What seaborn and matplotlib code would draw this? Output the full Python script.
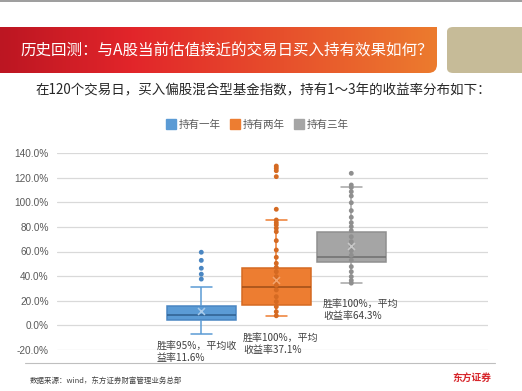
import numpy as np
import pandas as pd
import matplotlib.pyplot as plt
import matplotlib.patches as mpatches
from matplotlib.lines import Line2D
import seaborn as sns

# series and box statistics (return, %)
series = ["持有一年", "持有两年", "持有三年"]
whisker_low = [-7.0, 7.8, 34.3]
q1 = [4.2, 16.2, 51.8]
median = [8.2, 31.0, 55.4]
q3 = [16.0, 46.2, 76.0]
whisker_high = [31.5, 85.6, 112.0]
means = [11.6, 37.1, 64.3]

# visible points (outliers and inner points)
pts_1y = [59.4, 52.8, 46.4, 41.6, 37.6]
pts_2y = [129.4, 127.6, 125.6, 120.8, 94.3, 85.6, 83.4, 81.5, 78.9, 76.1,
          68.8, 61.2, 55.3, 50.4, 47.2, 43.6, 39.6, 36.3, 32.8, 28.8,
          23.3, 19.3, 15.2, 11.1, 7.8]
pts_3y = [123.5, 114.0, 112.0, 108.6, 105.1, 99.6, 93.2, 87.8, 83.4, 80.2,
          76.9, 72.0, 68.0, 64.5, 60.7, 57.0, 53.0, 47.7, 43.6, 39.6,
          36.5, 34.3]

notes = ["胜率95%，平均收\n益率11.6%", "胜率100%，平均\n收益率37.1%", "胜率100%，平均\n收益率64.3%"]
yticks = [-20, 0, 20, 40, 60, 80, 100, 120, 140]

fill_colors = ["#5B9BD5", "#ED7D31", "#A5A5A5"]
edge_colors = ["#4A86C2", "#D56A22", "#8F8F8F"]
median_colors = ["#2F5F8F", "#9E4E17", "#6F6F6F"]
mean_colors = ["#A9CBEA", "#F2A46E", "#C8C8C8"]

sns.set_style("white")
plt.rcParams['font.family'] = ['Noto Sans CJK SC', 'DejaVu Sans']

W, H = 522, 391
fig = plt.figure(figsize=(W / 100, H / 100), dpi=100)


def fx(px):
    return px / W


def fy(py):
    return 1 - py / H


# five-number summaries -> data for the box drawing
box_rows = []
for i, name in enumerate(series):
    for v in [whisker_low[i], q1[i], median[i], q3[i], whisker_high[i]]:
        box_rows.append({"series": name, "value": v})
box_df = pd.DataFrame(box_rows)

pts_df = pd.DataFrame({
    "series": [series[0]] * len(pts_1y) + [series[1]] * len(pts_2y) + [series[2]] * len(pts_3y),
    "value": pts_1y + pts_2y + pts_3y,
})
mean_df = pd.DataFrame({"series": series, "value": means})

ax = fig.add_axes([fx(57), fy(350), fx(488) - fx(57), fy(153) - fy(350)])

for i, name in enumerate(series):
    sns.boxplot(data=box_df[box_df["series"] == name], x="series", y="value",
                order=series, color=fill_colors[i], saturation=1,
                linecolor=fill_colors[i], linewidth=1.1, width=0.92,
                whis=(0, 100), showfliers=False, capwidths=0.28,
                boxprops={"edgecolor": edge_colors[i]},
                medianprops={"color": median_colors[i], "linewidth": 1.1},
                ax=ax)

sns.stripplot(data=pts_df, x="series", y="value", order=series, hue="series",
              hue_order=series, palette=edge_colors, jitter=False, size=3.5,
              linewidth=0, legend=False, zorder=4, ax=ax)

for i, name in enumerate(series):
    sns.stripplot(data=mean_df[mean_df["series"] == name], x="series", y="value",
                  order=series, color=mean_colors[i], marker="x", size=5,
                  linewidth=1.1, jitter=False, zorder=5, ax=ax)

ax.set_xlim(-1.924, 3.823)
ax.set_ylim(-20, 140)
ax.set_yticks(yticks)
ax.set_yticklabels([f"{t:.1f}%" for t in yticks], fontsize=7.2, color="#595959",
                   family=['Liberation Sans', 'DejaVu Sans'])
ax.set_xticks([])
ax.set_xlabel("")
ax.set_ylabel("")
ax.tick_params(axis="y", length=0, pad=6)
ax.set_axisbelow(True)
ax.yaxis.grid(True, color="#D9D9D9", linewidth=0.9)
for s in ax.spines.values():
    s.set_visible(False)

# notes under the boxes
note_pos = [(157, 341), (243, 333), (323, 299)]
for (px, py), txt in zip(note_pos, notes):
    fig.text(fx(px), fy(py), txt, fontsize=7.2, color="#404040", ha="left", va="top",
             linespacing=1.25)

# legend
handles = [Line2D([], [], marker="s", linestyle="", markersize=6.5, color=c) for c in fill_colors]
fig.legend(handles, series, loc="center", bbox_to_anchor=(fx(258), fy(125)), ncol=3,
           frameon=False, fontsize=7.6, handlelength=0.7, handletextpad=0.4,
           columnspacing=1.0, labelcolor="#595959")

# header banner with gradient, rounded bottom-right corner
ban = fig.add_axes([0, fy(73), fx(437), fy(27) - fy(73)])
grad = np.linspace(0, 1, 256)
cmap = plt.matplotlib.colors.LinearSegmentedColormap.from_list(
    "ban", [(0, "#BC1622"), (0.3, "#E2252A"), (1, "#EC7B2E")])
img = ban.imshow(grad[np.newaxis, :], aspect="auto", cmap=cmap, extent=[0, 1, 0, 1])
ban.set_xlim(0, 1)
ban.set_ylim(0, 1)
clip = mpatches.FancyBboxPatch((-0.1, 0), 1.1, 1.3, boxstyle="round,pad=0,rounding_size=0.02",
                               mutation_aspect=9.5, transform=ban.transData,
                               facecolor="none", edgecolor="none")
ban.add_patch(clip)
img.set_clip_path(clip)
ban.set_axis_off()
ban.text(fx(20) / fx(437), 0.5, "历史回测：与A股当前估值接近的交易日买入持有效果如何？",
         color="white", fontsize=11.2, va="center", ha="left")

fig.patches.append(mpatches.FancyBboxPatch((fx(447), fy(73)), fx(530) - fx(447), fy(27) - fy(73),
                                           boxstyle="round,pad=0,rounding_size=0.012",
                                           transform=fig.transFigure, facecolor="#C6BB98",
                                           edgecolor="none"))
fig.add_artist(Line2D([0, 1], [fy(0.8), fy(0.8)], color="#8C8C8C", linewidth=1.2,
                      transform=fig.transFigure))

# subtitle
fig.text(fx(35), fy(90), "在120个交易日，买入偏股混合型基金指数，持有1～3年的收益率分布如下：",
         fontsize=9.7, color="#262626", va="center", ha="left")

# footer
fig.add_artist(Line2D([fx(25), fx(495)], [fy(363), fy(363)], color="#BFBFBF", linewidth=0.8,
                      transform=fig.transFigure))
fig.text(fx(30), fy(381), "数据来源：wind，东方证券财富管理业务总部", fontsize=5.4,
         color="#404040", va="center", ha="left")
fig.text(fx(472), fy(378), "东方证券", fontsize=7, color="#D7252B", fontweight="bold",
         style="italic", va="center", ha="center")

fig.savefig("out.png", dpi=100)
